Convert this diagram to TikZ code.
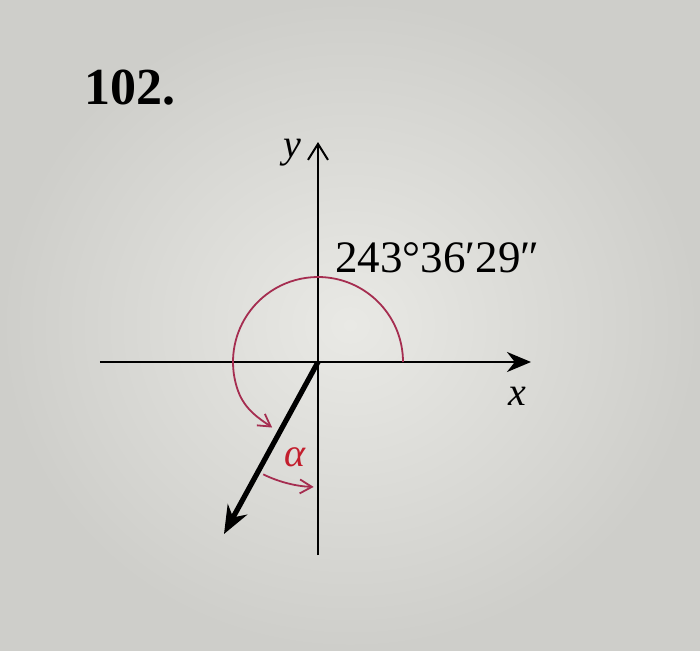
\documentclass[tikz,border=0pt]{standalone}
\usepackage{amsmath}
\usepackage{fontspec}
\setmainfont{Liberation Serif}
\usepackage{tikz}
\usetikzlibrary{arrows.meta}
\definecolor{paper}{RGB}{233,233,229}
\definecolor{paperedge}{RGB}{206,206,202}
\definecolor{arcred}{RGB}{165,45,80}
\definecolor{alphared}{RGB}{195,30,45}
\def\anglearc{(0:85) arc[start angle=0,end angle=200,radius=85] .. controls (-73,-48) and (-58,-57) .. (235:80)}
\def\alphaarc{(244:125) arc[start angle=244,end angle=268,radius=125]}

\begin{document}
\begin{tikzpicture}[x=0.5pt,y=0.5pt]
  \shade[inner color=paper,outer color=paperedge] (-318,-288) rectangle (382,362);
  \coordinate (O) at (0,0);
  \coordinate (xneg) at (-218,0);
  \coordinate (xpos) at (213,0);
  \coordinate (yneg) at (0,-193);
  \coordinate (ypos) at (0,220);
  \coordinate (term) at (-94,-172);
  \draw[line width=1pt,-{Straight Barb[length=8pt,width=10pt]}] (yneg) -- (ypos);
  \draw[line width=1.4pt,-{Stealth[length=12pt,width=10pt]}] (xneg) -- (xpos);
  \draw[line width=2.6pt,-{Stealth[length=14pt,width=11pt]}] (O) -- (term);
  \draw[arcred,line width=0.9pt,-{Straight Barb[length=6pt,width=7pt]}] \anglearc;
  \draw[arcred,line width=0.9pt,-{Straight Barb[length=6pt,width=7pt]}] \alphaarc;
  \node[font=\bfseries\fontsize{26}{30}\selectfont] (num) at (-188,274) {102.};
  \node[font=\itshape\fontsize{20}{24}\selectfont] (ylab) at (-26,209) {y};
  \node[font=\itshape\fontsize{20}{24}\selectfont] (xlab) at (199,-34) {x};
  \node[font=\itshape\fontsize{20}{24}\selectfont,text=alphared] (alab) at (-23,-95) {α};
  \node[font=\fontsize{22.5}{26}\selectfont,anchor=west,inner sep=0pt] (deg) at (17,104)
    {243°36′29″};
\end{tikzpicture}
\end{document}
